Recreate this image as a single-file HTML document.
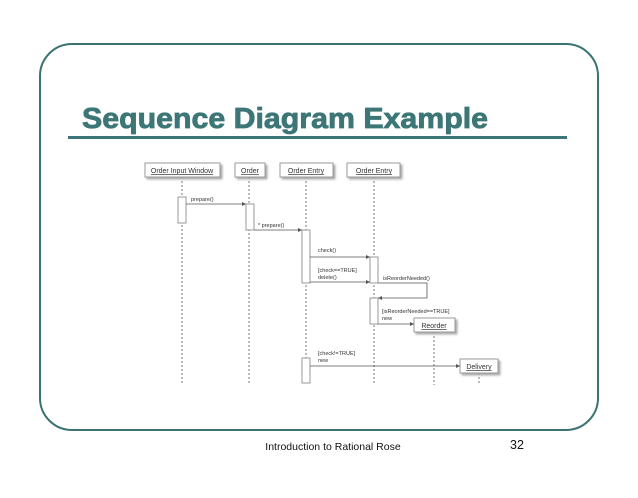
<!DOCTYPE html>
<html><head><meta charset="utf-8"><style>
body{margin:0;background:#fff;width:638px;height:493px;overflow:hidden;font-family:"Liberation Sans",sans-serif}
</style></head><body>
<svg width="638" height="493" viewBox="0 0 638 493" xmlns="http://www.w3.org/2000/svg" font-family="Liberation Sans, sans-serif">
<defs>
<marker id="a" markerWidth="6" markerHeight="6" refX="5" refY="3" orient="auto"><path d="M0,0.5 L5,3 L0,5.5 Z" fill="#555"/></marker>
<filter id="s"><feDropShadow dx="2" dy="2" stdDeviation="1" flood-color="#aaa"/></filter>
</defs>
<rect x="40" y="44" width="558" height="386" rx="32" fill="#fff" stroke="#3b7373" stroke-width="2"/>
<text x="82" y="128" font-size="28.5" font-weight="bold" fill="#3d7676" stroke="#3d7676" stroke-width="0.8" textLength="406" lengthAdjust="spacingAndGlyphs">Sequence Diagram Example</text>
<rect x="68" y="136" width="499" height="3" fill="#3d7676"/>
<g stroke="#777" stroke-width="1" stroke-dasharray="2,2">
<line x1="182" y1="177" x2="182" y2="385"/>
<line x1="249" y1="177" x2="249" y2="385"/>
<line x1="306" y1="177" x2="306" y2="385"/>
<line x1="374" y1="177" x2="374" y2="385"/>
<line x1="434" y1="332" x2="434" y2="385"/>
<line x1="479" y1="373" x2="479" y2="385"/>
</g>
<g fill="#fff" stroke="#999" filter="url(#s)">
<rect x="145" y="163" width="75" height="14"/>
<rect x="235" y="163" width="30" height="14"/>
<rect x="280" y="163" width="53" height="14"/>
<rect x="347" y="163" width="53" height="14"/>
<rect x="414" y="318" width="41" height="14"/>
<rect x="460" y="359" width="38" height="14"/>
</g>
<g font-size="7" fill="#333" text-anchor="middle" text-decoration="underline">
<text x="182" y="173">Order Input Window</text>
<text x="250" y="173">Order</text>
<text x="306" y="173">Order Entry</text>
<text x="374" y="173">Order Entry</text>
<text x="434" y="328">Reorder</text>
<text x="479" y="369">Delivery</text>
</g>
<g fill="#fff" stroke="#999">
<rect x="178" y="197" width="8" height="26"/>
<rect x="246" y="204" width="8" height="26"/>
<rect x="302" y="230" width="8" height="53"/>
<rect x="370" y="257" width="8" height="26"/>
<rect x="370" y="298" width="8" height="26"/>
<rect x="302" y="358" width="8" height="25"/>
</g>
<g stroke="#555" fill="none" stroke-width="0.8" marker-end="url(#a)">
<line x1="186" y1="204" x2="246" y2="204"/>
<line x1="254" y1="230" x2="302" y2="230"/>
<line x1="310" y1="257" x2="370" y2="257"/>
<line x1="310" y1="282" x2="370" y2="282"/>
<polyline points="378,283 427,283 427,298 378,298"/>
<line x1="378" y1="324" x2="414" y2="324"/>
<line x1="310" y1="366" x2="460" y2="366"/>
</g>
<g font-size="5.5" fill="#333">
<text x="191" y="201">prepare()</text>
<text x="258" y="227">* prepare()</text>
<text x="318" y="252">check()</text>
<text x="318" y="272">[check==TRUE]</text>
<text x="318" y="279">delete()</text>
<text x="383" y="280">isReorderNeeded()</text>
<text x="382" y="313">[isReorderNeeded==TRUE]</text>
<text x="382" y="320">new</text>
<text x="318" y="355">[check!=TRUE]</text>
<text x="318" y="362">new</text>
</g>
<text x="333" y="450" font-size="10.5" text-anchor="middle" fill="#111">Introduction to Rational Rose</text>
<text x="510" y="449" font-size="12.5" fill="#111">32</text>
</svg>
</body></html>
